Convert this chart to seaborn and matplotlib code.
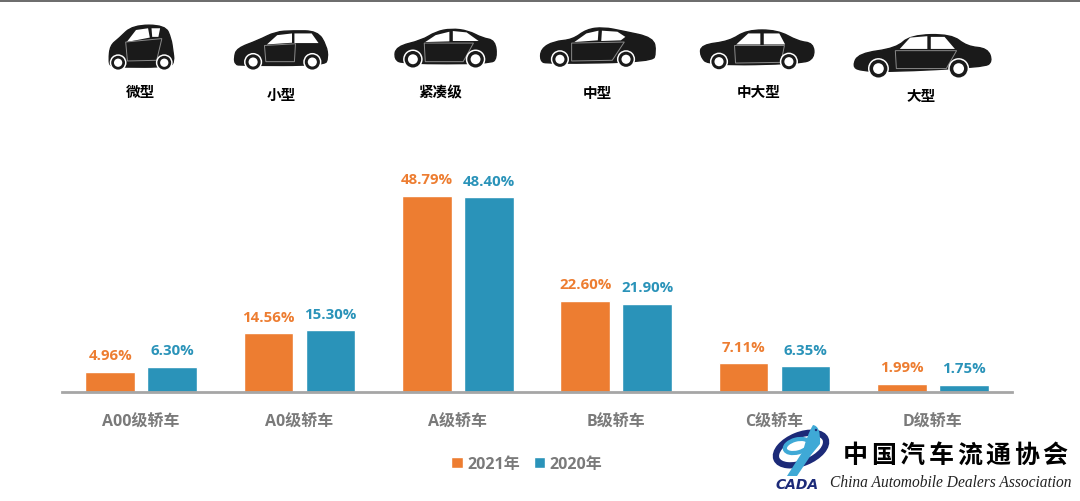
import pandas as pd
import seaborn as sns
from matplotlib import pyplot as plt
from matplotlib.patches import Circle, Ellipse, Polygon, Rectangle, PathPatch
from matplotlib.path import Path

categories = ['A00级轿车', 'A0级轿车', 'A级轿车', 'B级轿车', 'C级轿车', 'D级轿车']
share_2021 = [4.96, 14.56, 48.79, 22.60, 7.11, 1.99]
share_2020 = [6.30, 15.30, 48.40, 21.90, 6.35, 1.75]
years = ['2021年', '2020年']
car_types = ['微型', '小型', '紧凑级', '中型', '中大型', '大型']

ORANGE = '#ED7D31'
BLUE = '#2A93B9'
GREY = '#7A7A7A'
W, H = 1080, 502
ZOOM = 2.904


def px(pt):
    return (pt[0] / ZOOM, pt[1] / ZOOM)


def smooth_path(pts):
    # closed quadratic curve through the edge midpoints, rounds the corners
    mids = [((pts[i][0] + pts[(i + 1) % len(pts)][0]) / 2, (pts[i][1] + pts[(i + 1) % len(pts)][1]) / 2)
            for i in range(len(pts))]
    verts = [mids[-1]]
    codes = [Path.MOVETO]
    for p, m in zip(pts, mids):
        verts += [p, m]
        codes += [Path.CURVE3, Path.CURVE3]
    return Path(verts, codes)


def car_shapes():
    return [
        dict(body=[(316, 178), (320, 135), (345, 115), (385, 76), (480, 76), (497, 115), (502, 150), (506, 180), (495, 198), (345, 198), (320, 195)],
             glass=[[(368, 125), (395, 90), (430, 85), (435, 112)], [(440, 85), (465, 85), (460, 110), (442, 110)]],
             wheels=[(343, 185), (477, 185)], r=20, doors=[(365, 125), (370, 180), (455, 178), (470, 115)]),
        dict(body=[(680, 170), (688, 143), (750, 120), (800, 95), (850, 92), (922, 93), (948, 135), (953, 172), (942, 193), (700, 193), (683, 190)],
             glass=[[(775, 132), (805, 105), (848, 100), (848, 127)], [(855, 100), (905, 100), (925, 128), (855, 128)]],
             wheels=[(735, 183), (907, 183)], r=22, doors=[(768, 135), (772, 182), (855, 182), (858, 130)]),
        dict(body=[(1145, 175), (1150, 138), (1225, 120), (1265, 95), (1310, 86), (1360, 92), (1400, 113), (1438, 120), (1443, 172), (1425, 188), (1170, 188)],
             glass=[[(1235, 125), (1265, 105), (1305, 95), (1305, 123)], [(1315, 93), (1355, 97), (1390, 122), (1315, 122)]],
             wheels=[(1199, 175), (1381, 175)], r=24, doors=[(1232, 128), (1235, 182), (1345, 182), (1375, 128)]),
        dict(body=[(1571, 145), (1608, 123), (1663, 118), (1703, 88), (1753, 82), (1808, 93), (1898, 112), (1905, 155), (1895, 183), (1588, 188), (1569, 180)],
             glass=[[(1668, 125), (1703, 100), (1738, 92), (1736, 120)], [(1748, 92), (1793, 95), (1816, 110), (1803, 120), (1746, 122)]],
             wheels=[(1626, 175), (1818, 175)], r=22, doors=[(1660, 128), (1660, 180), (1778, 178), (1813, 125)]),
        dict(body=[(2033, 165), (2036, 133), (2118, 123), (2168, 90), (2258, 90), (2318, 123), (2362, 128), (2365, 172), (2328, 188), (2058, 193)],
             glass=[[(2138, 132), (2173, 100), (2208, 100), (2208, 132)], [(2218, 100), (2263, 100), (2280, 132), (2218, 132)]],
             wheels=[(2088, 182), (2291, 182)], r=22, doors=[(2133, 135), (2136, 186), (2268, 184), (2278, 135)]),
        dict(body=[(2476, 195), (2493, 158), (2603, 143), (2643, 105), (2763, 102), (2808, 138), (2868, 143), (2882, 182), (2858, 198), (2578, 212), (2496, 208)],
             glass=[[(2613, 145), (2643, 112), (2693, 108), (2693, 145)], [(2703, 110), (2743, 110), (2773, 145), (2703, 145)]],
             wheels=[(2551, 202), (2784, 202)], r=26, doors=[(2600, 150), (2603, 202), (2748, 202), (2778, 150)]),
    ]


def draw_car(ov, shape):
    ov.add_patch(PathPatch(smooth_path([px(p) for p in shape['body']]), fc='#1A1A1A', ec='#1A1A1A', lw=1))
    for g in shape['glass']:
        ov.add_patch(Polygon([px(p) for p in g], closed=True, fc='white', ec='none'))
    ov.add_patch(Polygon([px(p) for p in shape['doors']], closed=True, fc='none', ec='#8A8A8A', lw=0.7))
    r = shape['r'] / ZOOM
    for pt in shape['wheels']:
        ov.add_patch(Circle(px(pt), r + 1.5, fc='white', ec='none'))
        ov.add_patch(Circle(px(pt), r, fc='#1A1A1A', ec='none'))
        ov.add_patch(Circle(px(pt), r * 0.6, fc='white', ec='none'))


def draw_logo(ov):
    navy = '#1C2A78'
    sky = '#3FA9D6'
    ov.add_patch(Ellipse((801, 450), 53, 28, angle=-22, fc='none', ec=navy, lw=4.5))
    swirl = Path([(787, 477), (803, 452), (807, 436), (813, 426), (821, 427), (820, 445), (811, 456), (797, 477), (787, 477)],
                 [Path.MOVETO, Path.LINETO, Path.CURVE3, Path.CURVE3, Path.CURVE3, Path.CURVE3, Path.LINETO, Path.LINETO, Path.CLOSEPOLY])
    ov.add_patch(PathPatch(swirl, fc=sky, ec='none'))
    ov.add_patch(Ellipse((797, 447), 25, 13, angle=-15, fc='none', ec=sky, lw=3))
    ov.add_patch(Circle((816, 431), 1.2, fc=navy, ec='none'))
    ov.text(797, 485, 'CADA', color=navy, fontsize=10, fontweight='bold', style='italic',
            family='DejaVu Sans', ha='center', va='center')
    for i, ch in enumerate('中国汽车流通协会'):
        ov.text(855 + i * 28.6, 456, ch, color='black', fontsize=18, fontweight='bold',
                family='Noto Sans CJK SC', ha='center', va='center')
    ov.text(951, 483, 'China Automobile Dealers Association', color='#222222', fontsize=11.2,
            style='italic', family='Liberation Serif', ha='center', va='center')


def main():
    sns.set_theme(style='white')
    plt.rcParams['font.family'] = ['Open Sans', 'Noto Sans CJK SC', 'DejaVu Sans']

    df = pd.DataFrame({
        'category': categories * 2,
        'share': share_2021 + share_2020,
        'year': [years[0]] * 6 + [years[1]] * 6,
    })

    fig = plt.figure(figsize=(W / 100, H / 100), dpi=100)
    fig.patch.set_facecolor('white')
    # axes box: baseline at y=393, about 4 px per percent
    base_px = 393
    top_px = 142
    ax = fig.add_axes([62 / W, 1 - base_px / H, 950 / W, (base_px - top_px) / H])
    sns.barplot(data=df, x='category', y='share', hue='year', hue_order=years,
                palette=[ORANGE, BLUE], width=0.783, gap=0.2, saturation=1, ax=ax)
    ax.set_xlim(-0.5, 5.5)
    ax.set_ylim(0, (base_px - top_px) / 4.02)
    ax.set_xlabel('')
    ax.set_ylabel('')
    ax.set_yticks([])
    sns.despine(ax=ax, left=True)
    ax.spines['bottom'].set_color('#A6A6A6')
    ax.spines['bottom'].set_linewidth(2)
    ax.tick_params(axis='x', length=0, pad=15.5)
    for lab in ax.get_xticklabels():
        lab.set_fontsize(11.5)
        lab.set_fontweight('bold')
        lab.set_color(GREY)

    for container, color in zip(ax.containers, [ORANGE, BLUE]):
        ax.bar_label(container, fmt='%.2f%%', padding=7, color=color,
                     fontsize=10.8, fontweight='bold')

    handles, labels = ax.get_legend_handles_labels()
    leg = ax.legend(handles, labels, loc='center',
                    bbox_to_anchor=((527 - 62) / 950, (base_px - 465) / (base_px - top_px)),
                    ncol=2, frameon=False, handlelength=0.7, handleheight=0.7, handletextpad=0.3,
                    columnspacing=0.85, prop={'size': 11.5, 'weight': 'bold'})
    for t in leg.get_texts():
        t.set_color(GREY)

    # overlay in pixel coords for the icons and logo
    ov = fig.add_axes([0, 0, 1, 1], zorder=5)
    ov.set_xlim(0, W)
    ov.set_ylim(H, 0)
    ov.axis('off')
    ov.add_patch(Rectangle((0, 0), W, 3, fc='#6E6E6E', ec='none'))
    for shape in car_shapes():
        draw_car(ov, shape)
    label_pos = [(140, 92), (281, 95), (440, 92), (597, 93), (759, 92), (921, 96)]
    for name, (x, y) in zip(car_types, label_pos):
        ov.text(x, y, name, color='black', fontsize=10.5, fontweight='bold',
                family='Noto Sans CJK SC', ha='center', va='center')
    draw_logo(ov)

    fig.savefig('out.png', dpi=100)


if __name__ == '__main__':
    main()
